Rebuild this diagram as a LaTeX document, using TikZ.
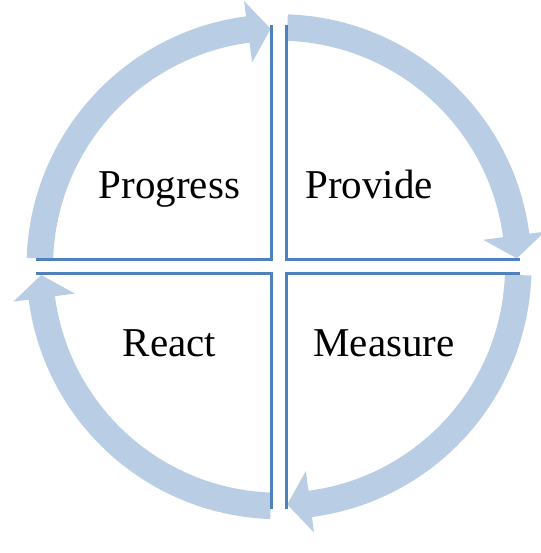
\documentclass[tikz,border=0pt]{standalone}
\usepackage{fontspec}
\setmainfont{Liberation Serif}
\usepackage{tikz}
\definecolor{bandblue}{RGB}{185,205,229}
\definecolor{lineblue}{RGB}{79,129,189}

\begin{document}
\begin{tikzpicture}[x=1pt, y=1pt,
  band/.style={fill=bandblue},
  quad/.style={draw=lineblue, line width=3pt},
  word/.style={anchor=base, font=\fontsize{41}{48}\selectfont}]
  \useasboundingbox (0,0) rectangle (540,553);
  \coordinate (c) at (279,286.3);
  % cycle arrows
  \foreach \a in {0,90,180,270}
    \fill[band, shift={(c)}] (\a+88:252.5pt) arc[start angle=\a+88, end angle=\a+7.5, radius=252.5pt]
      -- (\a+7.5:268pt) -- (\a+2:238pt) -- (\a+7.5:206pt) -- (\a+7.5:226pt)
      arc[start angle=\a+7.5, end angle=\a+88, radius=226pt] -- cycle;
  % quadrant edges
  \draw[quad] (36,293.7) -- (271.5,293.7) -- (271.5,528);
  \draw[quad] (520,293.7) -- (286.5,293.7) -- (286.5,528);
  \draw[quad] (36,279) -- (271.5,279) -- (271.5,44);
  \draw[quad] (520,279) -- (286.5,279) -- (286.5,44);
  \node[word] (progress) at (169.5,354) {Progress};
  \node[word] (provide) at (369,354) {Provide};
  \node[word] (react) at (169.5,196) {React};
  \node[word] (measure) at (384,196) {Measure};
\end{tikzpicture}
\end{document}
